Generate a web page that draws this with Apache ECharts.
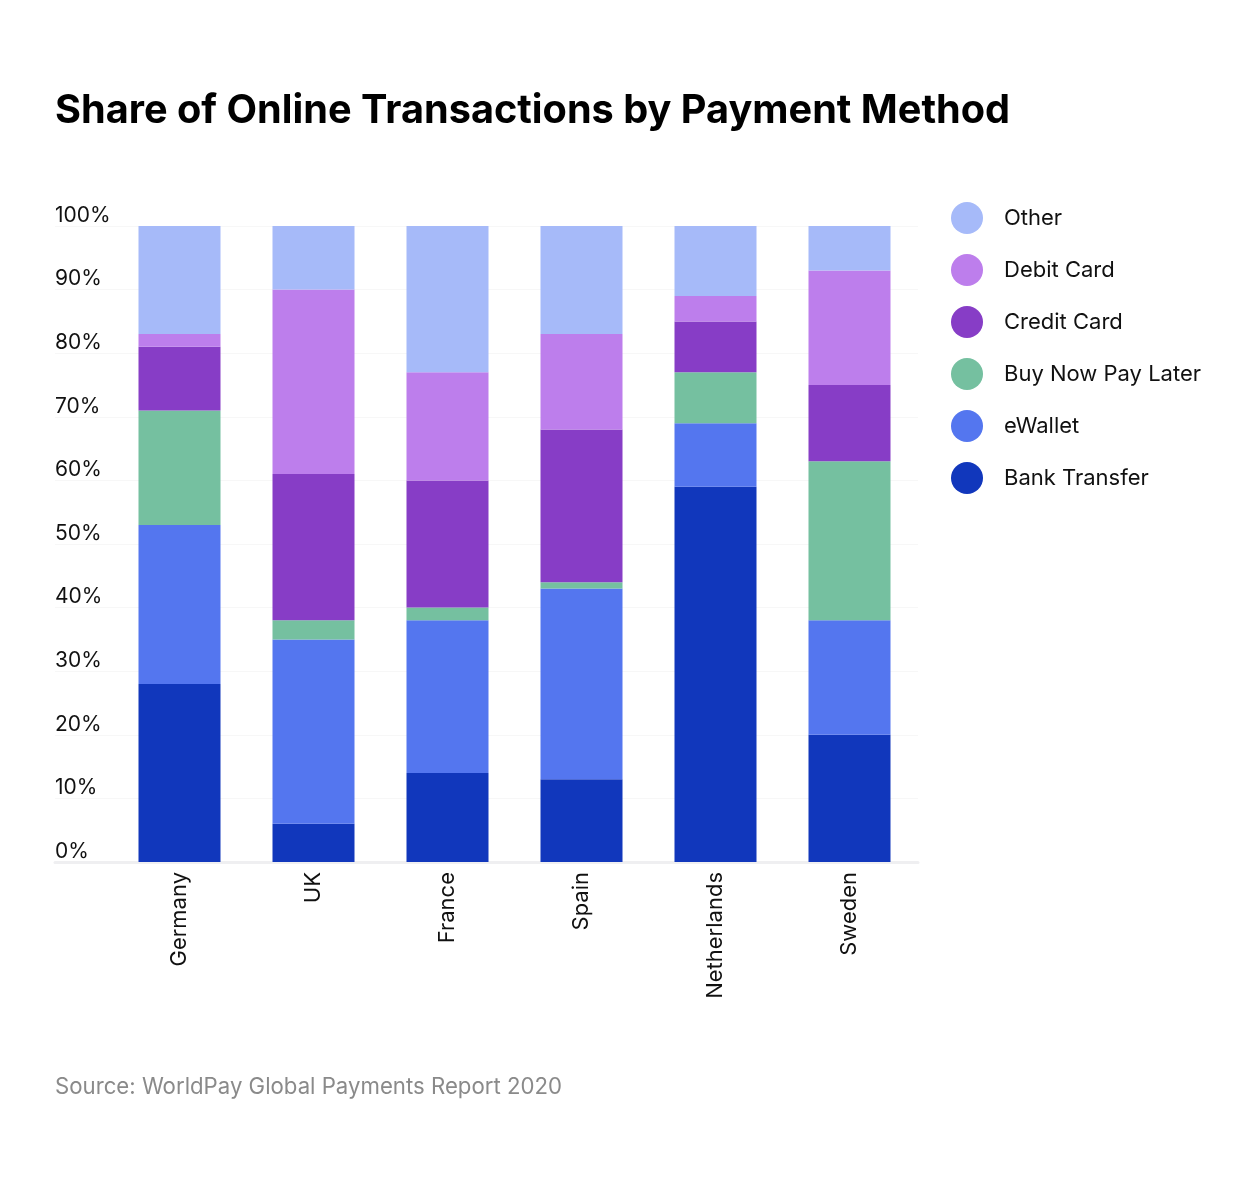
<!DOCTYPE html>
<html>
<head>
<meta charset="utf-8">
<script src="https://cdn.jsdelivr.net/npm/echarts@6/dist/echarts.min.js"></script>
<style>
  html, body { margin: 0; padding: 0; background: #fff; }
  #chart { width: 1256px; height: 1198px; }
</style>
</head>
<body>
<div id="chart"></div>
<script>
// data (percent of transactions)
const countries = ['Germany', 'UK', 'France', 'Spain', 'Netherlands', 'Sweden'];
const bankTransfer = [28, 6, 14, 13, 59, 20];
const eWallet = [25, 29, 24, 30, 10, 18];
const buyNowPayLater = [18, 3, 2, 1, 8, 25];
const creditCard = [10, 23, 20, 24, 8, 12];
const debitCard = [2, 29, 17, 15, 4, 18];
const other = [17, 10, 23, 17, 11, 7];
const legendOrder = ['Other', 'Debit Card', 'Credit Card', 'Buy Now Pay Later', 'eWallet', 'Bank Transfer'];

const FONT = 'Inter';

const chart = echarts.init(document.getElementById('chart'));

function bar(name, data, color) {
  return {
    name: name,
    type: 'bar',
    stack: 'total',
    xAxisIndex: 1,
    yAxisIndex: 1,
    barWidth: 82,
    data: data,
    itemStyle: { color: color },
    emphasis: { disabled: true }
  };
}

const option = {
  backgroundColor: '#fff',
  animation: false,
  textStyle: { fontFamily: FONT },
  title: [
    {
      text: 'Share of Online Transactions by Payment Method',
      left: 55,
      top: 91,
      padding: 0,
      textStyle: { fontFamily: FONT, fontSize: 39.7, fontWeight: 'bold', color: '#000' }
    },
    {
      text: 'Source: WorldPay Global Payments Report 2020',
      left: 55,
      top: 1076,
      padding: 0,
      textStyle: { fontFamily: FONT, fontSize: 22.2, fontWeight: 'normal', color: '#8a8a8a' }
    }
  ],
  legend: {
    orient: 'vertical',
    left: 951,
    top: 202,
    padding: 0,
    itemWidth: 32,
    itemHeight: 32,
    itemGap: 20,
    icon: 'circle',
    data: legendOrder,
    selectedMode: false,
    textStyle: { fontFamily: FONT, fontSize: 22, color: '#111', padding: [0, 0, 0, 16] }
  },
  grid: [
    { left: 55, right: 338, top: 226, bottom: 336 },
    { left: 112.5, width: 804, top: 226, bottom: 336 }
  ],
  xAxis: [
    {
      gridIndex: 0,
      type: 'category',
      data: countries,
      offset: 2,
      axisLine: { show: true, lineStyle: { color: '#efeff1', width: 3 } },
      axisTick: { show: false },
      axisLabel: { show: false },
      splitLine: { show: false }
    },
    {
      gridIndex: 1,
      type: 'category',
      data: countries,
      axisLine: { show: false },
      axisTick: { show: false },
      axisLabel: {
        rotate: 90,
        margin: 10,
        fontFamily: FONT,
        fontSize: 22,
        color: '#111'
      }
    }
  ],
  yAxis: [
    {
      gridIndex: 0,
      type: 'value',
      min: 0,
      max: 100,
      interval: 10,
      axisLine: { show: false },
      axisTick: { show: false },
      splitLine: { lineStyle: { color: '#f7f7f7', width: 1 } },
      axisLabel: {
        inside: true,
        margin: 0,
        verticalAlign: 'bottom',
        fontFamily: FONT,
        fontSize: 21,
        color: '#111',
        formatter: '{value}%'
      }
    },
    {
      gridIndex: 1,
      type: 'value',
      min: 0,
      max: 100,
      show: false
    }
  ],
  series: [
    bar('Bank Transfer', bankTransfer, '#1137bc'),
    bar('eWallet', eWallet, '#5476ef'),
    bar('Buy Now Pay Later', buyNowPayLater, '#75c0a0'),
    bar('Credit Card', creditCard, '#873dc6'),
    bar('Debit Card', debitCard, '#bd7eec'),
    bar('Other', other, '#a6baf9')
  ]
};

chart.setOption(option);
</script>
</body>
</html>
